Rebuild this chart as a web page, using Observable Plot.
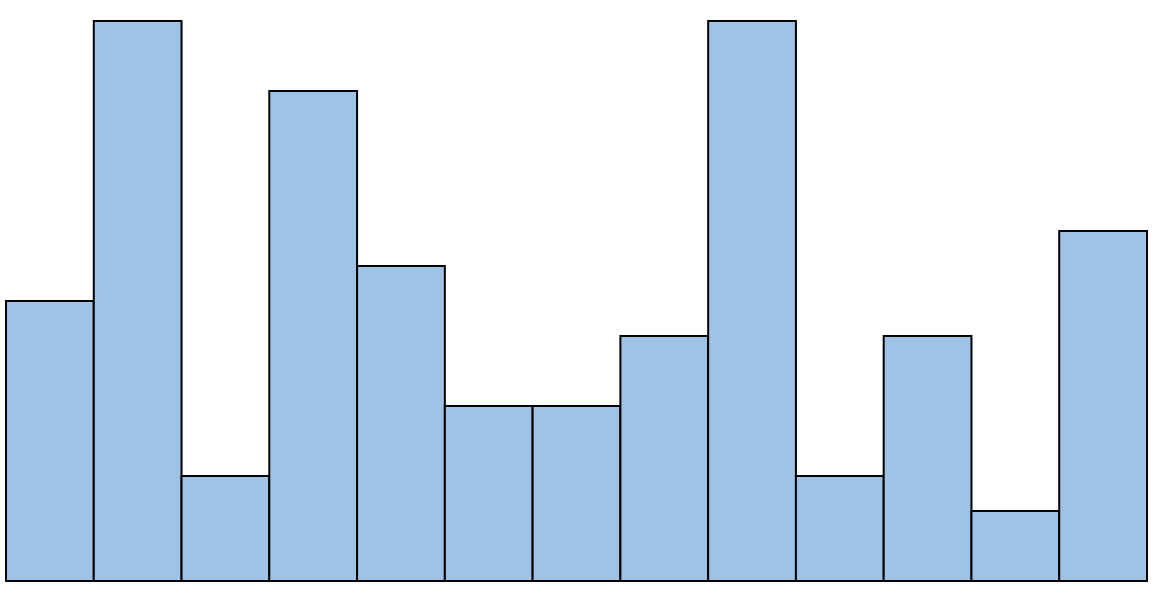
<!DOCTYPE html>
<html><head><meta charset="utf-8">
<script src="https://cdn.jsdelivr.net/npm/d3@7"></script>
<script src="https://cdn.jsdelivr.net/npm/@observablehq/plot@0.6"></script>
<style>body{margin:0;background:#fff}</style>
</head><body><div id="chart"></div>
<script>
const categories = ["1","2","3","4","5","6","7","8","9","10","11","12","13"];
const values = [8,16,3,14,9,5,5,7,16,3,7,2,10];
const data = categories.map((c,i)=>({c, v: values[i]}));
const chart = Plot.plot({
  width: 1156, height: 590,
  marginTop: 21, marginBottom: 9, marginLeft: 6, marginRight: 9,
  x: {type: "band", domain: categories, padding: 0, round: false, axis: null},
  y: {domain: [0, 16], axis: null},
  marks: [
    Plot.barY(data, {x: "c", y: "v", fill: "#9fc3e7", stroke: "black", strokeWidth: 2})
  ]
});
document.getElementById("chart").append(chart);
</script></body></html>
